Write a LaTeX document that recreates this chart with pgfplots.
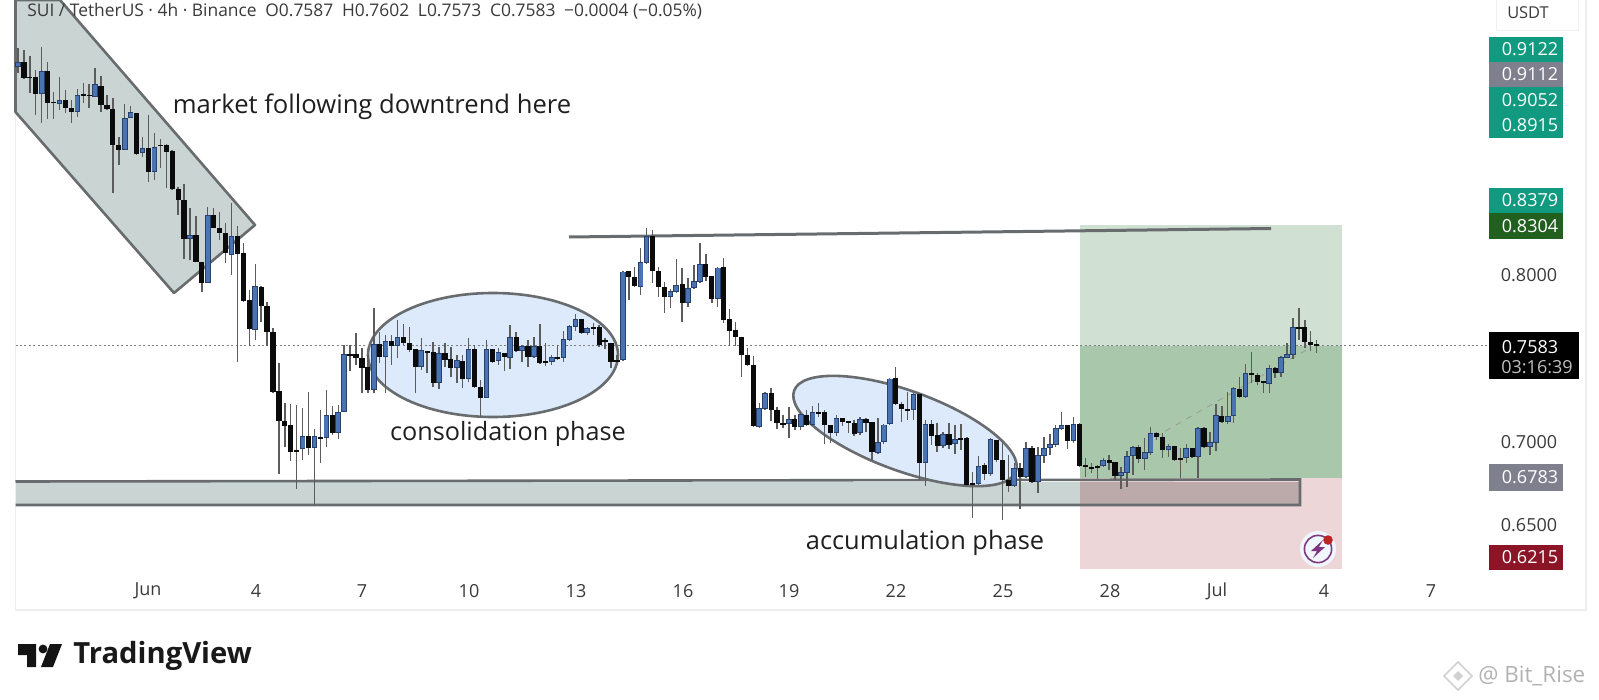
\documentclass[border=0pt]{standalone}
\usepackage{fontspec}
\usepackage{pgfplots}
\usepackage{pgfplotstable}
\pgfplotsset{compat=1.18}
\setmainfont{Open Sans}
\definecolor{wick}{HTML}{5C5C5C}
\definecolor{bodyk}{HTML}{0B0B0B}
\definecolor{bodyb}{HTML}{4A73B2}
\definecolor{edgeb}{HTML}{26406F}
\definecolor{frameg}{HTML}{EEEEEE}
\definecolor{channel}{HTML}{CAD4D2}
\definecolor{lineg}{HTML}{686C6E}
\definecolor{ell}{HTML}{DDEAFC}
\definecolor{gtop}{HTML}{D0E0D2}
\definecolor{gbot}{HTML}{A9C7AB}
\definecolor{gleft}{HTML}{CDDDD0}
\definecolor{redz}{HTML}{EDD6D7}
\definecolor{brownz}{HTML}{BBAAA9}
\definecolor{teal}{HTML}{119A80}
\definecolor{grayb}{HTML}{7E808E}
\definecolor{dgreen}{HTML}{22601F}
\definecolor{dred}{HTML}{8B1526}
\definecolor{txt}{HTML}{3A3A3A}
\pgfplotstableread{
i o h l c
0 67 48 73 62
1 62 50 79 78
2 77 56 93 78.5
3 77 70 115 94
4 94 47 123 71
5 71 62 119 103
6 102 92 119 103.5
7 104 77 110 100
8 100 90 113 108
9 108 100 123 112
10 112 89 117 95
11 94.5 83 103 96
12 95 84 108 96.5
13 97 68 97 84
14 86 76 112 105
15 105 95 110 109
16 109 98 193 145
17 145 137 165 150
18 150 104 150 118
19 118 106 118 112
20 113 113 155 154
21 153 137 157 148
22 148 115 182 172
23 172 133 180 147
24 145 139 168 146.5
25 145 144 188 152
26 151 150 190 189
27 189 187 215 200
28 200 184 259 239
29 239 208 260 235
30 235 216 262 262
31 262 262 292 283
32 283 207 283 215
33 215 208 228 228
34 228 212 240 233
35 233 223 263 253
36 255 203 275 236
37 236 226 362 254
38 253 243 302 301
39 300 290 346 329
40 330 264 340 286
41 287 286 322 306
42 306 302 346 332
43 332 328 393 392
44 391 363 474 421
45 421 403 447 426
46 425 404 461 452
47 450 405 489 451.5
48 449 408 460 436
49 436 392 455 448
50 448 429 505 436
51 437 410 463 438.5
52 438 390 447 415
53 415 406 435 433
54 433 405 439 412
55 412 345 412 354
56 354 345 371 355.5
57 354 333 365 358
58 358 348 393 368
59 367 355 393 390
60 390 308 393 344
61 344 332 363 357
62 357 335 393 341
63 341 335 365 346
64 346 320 358 337
65 337 324 345 343
66 343 327 352 350
67 349 349 393 367
68 367 338 370 350
69 351 351 373 353
70 352 342 387 383
71 383 347 389 353
72 353 343 367 360
73 359 347 377 368
74 368 355 383 360
75 361 355 388 379
76 379 338 382 349
77 349 345 388 387
78 387 380 417 398
79 398 340 398 349
80 349 349 363 362
81 361 348 365 352
82 353 353 371 357
83 358 325 369 337
84 337 332 352 351
85 351 345 362 346
86 346 340 367 357
87 357 337 358 346
88 346 324 364 363
89 361 343 366 363
90 362 355 365 357
91 357 345 360 358.5
92 358 331 362 339
93 340 325 341 326
94 327 314 331 319
95 319 319 334 333
96 333 327 335 328
97 327 323 335 328.5
98 327 325 347 345
99 340 338 349 341.5
100 343 343 368 362
101 360 355 363 361.5
102 360 271 361 271.5
103 271 271 300 277
104 277 267 287 286
105 287 248 295 262
106 263 228 264 236
107 236 230 283 271
108 271 267 297 287
109 287 282 313 297
110 297 289 308 291
111 292 259 293 285
112 284 268 322 303
113 303 278 307 288
114 288 265 289 281
115 282 243 283 264
116 264 254 281 277
117 276 276 303 299
118 299 267 307 267.5
119 267 258 323 320
120 319 309 346 331
121 330 322 346 337
122 337 337 377 355
123 355 348 366 365
124 365 356 427 426
125 427 403 428 408
126 409 392 410 393
127 393 388 421 410
128 410 407 429 423
129 423 415 428 424.5
130 424 407 438 419
131 419 415 430 427
132 427 411 430 414
133 415 410 426 425
134 425 406 426 412
135 412 403 417 413.5
136 412 410 444 425
137 425 425 443 433
138 433 415 436 418
139 418 418 426 422
140 421 421 433 423
141 423 420 436 434
142 433 417 435 419
143 419 418 432 423
144 422 422 460 452
145 453 418 454 442
146 442 424 444 424.5
147 424 378 425 378.5
148 378 367 405 404
149 404 402 422 409
150 409 392 420 410.5
151 410 393 420 394
152 394 394 480 463
153 463 420 486 424
154 424 420 445 436
155 435 423 452 446
156 446 432 448 434
157 434 423 449 445
158 444 425 454 439
159 438 424 450 439.5
160 438 437 486 485
161 483 472 518 484.5
162 484 456 485 466
163 465 463 480 474
164 474 438 476 439
165 440 440 462 460
166 460 443 520 480
167 480 455 492 486
168 486 463 487 468
169 468 463 509 477
170 477 442 478 448
171 448 446 483 482
172 482 447 493 455
173 456 437 463 448
174 448 434 455 444
175 445 425 447 428
176 429 412 430 425
177 425 425 449 441
178 441 417 443 424
179 424 423 467 466
180 465 458 477 467
181 467 463 473 468.5
182 466 465 479 467.5
183 466 458 467 460
184 460 455 470 463
185 462 462 480 476
186 476 467 489 472
187 473 451 487 456
188 456 446 475 447
189 447 445 463 459
190 459 438 470 452
191 453 427 455 433
192 433 432 440 437
193 437 433 458 450
194 450 444 457 446
195 446 446 461 460
196 458 448 478 459.5
197 458 444 463 448
198 448 448 458 457
199 457 427 478 428
200 428 427 448 447
201 447 432 455 442
202 443 404 451 415
203 416 406 423 422
204 422 392 424 416
205 416 387 423 388
206 389 377 398 397
207 397 364 398 373
208 373 352 383 375
209 375 373 385 382
210 381 381 393 383
211 384 365 393 368
212 368 367 378 373
213 373 356 377 357
214 358 343 358 354
215 355 318 359 327
216 327 308 340 328.5
217 327 320 348 342
218 342 331 351 345
219 344 340 353 345.5
}\candles
\newcommand{\cx}{18+5.93*\thisrow{i}}
\begin{document}
\begin{tikzpicture}[x=1pt,y=1pt]
\path[use as bounding box] (0,0) rectangle (799.5pt,350pt);
\begin{axis}[
  at={(0,0)},anchor=south west,
  scale only axis,width=799.5pt,height=350pt,
  xmin=0,xmax=1599,ymin=0,ymax=700,y dir=reverse,
  clip=false,
  axis line style={draw=none},
  major tick length=0pt,
  xtick={148,256,362,469,576,683,789,896,1003,1110,1217,1324,1431},
  xticklabels={Jun,4,7,10,13,16,19,22,25,28,Jul,4,7},
  ytick={275,442,525},
  yticklabels={0.8000,0.7000,0.6500},
  ytick pos=right,
  yticklabel pos=right,
  ticklabel style={text=txt,inner sep=0pt,anchor=center},
  xticklabel style={yshift=54.5pt,font=\fontsize{9}{10}\selectfont},
  yticklabel style={xshift=-35pt,font=\fontsize{9}{11}\selectfont},
  /pgf/number format/assume math mode=true,
]
% panel frame
\draw[frameg,line width=0.6pt] (axis cs:15.5,0) -- (axis cs:15.5,610) -- (axis cs:1586,610) -- (axis cs:1586,0);
% risk / reward box
\fill[gtop] (axis cs:1080,225) rectangle (axis cs:1342,346);
\fill[gbot] (axis cs:1080,346) rectangle (axis cs:1342,478);
\fill[redz] (axis cs:1080,478) rectangle (axis cs:1342,569);
% channel
\filldraw[fill=channel,draw=lineg,line width=1.3pt,line join=round] (axis cs:60,0) -- (axis cs:255,225) -- (axis cs:174,293) -- (axis cs:15.5,112) -- (axis cs:15.5,0) -- cycle;
% support zone
\fill[channel] (axis cs:15.5,482) rectangle (axis cs:1080,505);
\fill[brownz] (axis cs:1080,482) rectangle (axis cs:1300,505);
\draw[lineg,line width=1.3pt] (axis cs:15.5,481.5) -- (axis cs:1300,479.5) -- (axis cs:1300,505) -- (axis cs:15.5,505);
% ellipses
\filldraw[fill=ell,draw=lineg,line width=1.3pt] (axis cs:493,355) ellipse [x radius=125,y radius=62];
\filldraw[fill=ell,draw=lineg,line width=1.3pt,rotate around={-20:(axis cs:905,431)}] (axis cs:905,431) ellipse [x radius=59pt,y radius=20pt];
% resistance, last price, path
\draw[lineg,line width=1.5pt] (axis cs:569,237) -- (axis cs:1271,228.5);
\draw[gray,line width=0.35pt,dash pattern=on 1pt off 1.2pt] (axis cs:15.5,345.5) -- (axis cs:1489,345.5);
\draw[gray!80,line width=0.4pt,dash pattern=on 3pt off 3pt] (axis cs:1155,437) -- (axis cs:1310,348);
% candles
\addplot[draw=none,forget plot,error bars/.cd,y dir=plus,y explicit,error mark=none,error bar style={draw=wick,line width=0.7pt,solid}]
  table[x expr=\cx,y=h,y error plus expr=\thisrow{l}-\thisrow{h}] {\candles};
\addplot[draw=none,forget plot,error bars/.cd,y dir=plus,y explicit,error mark=none,error bar style={draw=bodyk,line width=2.6pt,solid}]
  table[x expr={\thisrow{c}>\thisrow{o} ? \cx : nan},y=o,y error plus expr=\thisrow{c}-\thisrow{o}] {\candles};
\addplot[draw=none,forget plot,error bars/.cd,y dir=plus,y explicit,error mark=none,error bar style={draw=edgeb,line width=2.8pt,solid}]
  table[x expr={\thisrow{c}<\thisrow{o} ? \cx : nan},y=c,y error plus expr=\thisrow{o}-\thisrow{c}] {\candles};
\addplot[draw=none,forget plot,error bars/.cd,y dir=plus,y explicit,error mark=none,error bar style={draw=bodyb,line width=1.9pt,solid}]
  table[x expr={\thisrow{c}<\thisrow{o} ? \cx : nan},y expr=\thisrow{c}+0.7,y error plus expr=\thisrow{o}-\thisrow{c}-1.4] {\candles};
% annotations
\node[anchor=center,text=black!88,font=\fontsize{12.8}{15}\selectfont] at (axis cs:372,107) {market following downtrend here};
\node[anchor=center,text=black!88,font=\fontsize{12.6}{15}\selectfont] at (axis cs:508,434) {consolidation phase};
\node[anchor=center,text=black!88,font=\fontsize{12.7}{15}\selectfont] at (axis cs:925,543) {accumulation phase};
% header
\node[anchor=west,inner sep=0pt,text=txt,font=\fontsize{8.7}{10}\selectfont] at (axis cs:27,11) {SUI / TetherUS · 4h · Binance\enspace O0.7587\enspace H0.7602\enspace L0.7573\enspace C0.7583\enspace −0.0004 (−0.05\%)};
% price scale badges
\newcommand{\badge}[4]{\fill[#1] (axis cs:1489,#2) rectangle (axis cs:1563,#3);
  \node[anchor=center,inner sep=0pt,text=white,font=\fontsize{9}{11}\selectfont] at (axis cs:1530,{(#2+#3)/2}) {#4};}
\badge{teal}{37}{62}{0.9122}
\badge{grayb}{62}{87}{0.9112}
\badge{teal}{87}{113}{0.9052}
\badge{teal}{113}{138}{0.8915}
\badge{teal}{188}{213}{0.8379}
\badge{dgreen}{213}{239}{0.8304}
\badge{grayb}{464}{491}{0.6783}
\badge{dred}{545}{570}{0.6215}
\fill[black] (axis cs:1489,332) rectangle (axis cs:1579,379);
\node[anchor=center,inner sep=0pt,text=white,font=\fontsize{9}{11}\selectfont] at (axis cs:1530,347) {0.7583};
\node[anchor=center,inner sep=0pt,text=black!25,font=\fontsize{9}{11}\selectfont] at (axis cs:1537,367) {03:16:39};
\draw[black!6,line width=0.5pt] (axis cs:1496,0) -- (axis cs:1496,31) -- (axis cs:1578,31) -- (axis cs:1578,0);
\node[anchor=center,inner sep=0pt,text=txt,font=\fontsize{8.2}{10}\selectfont] at (axis cs:1528,13) {USDT};
% flash icon
\fill[white!55!ell] (axis cs:1318,549) circle [radius=9pt];
\draw[violet!55!gray,line width=0.8pt] (axis cs:1318,549) circle [radius=6.8pt];
\fill[violet!60!gray] (axis cs:1323,540) -- (axis cs:1311,551) -- (axis cs:1317,551) -- (axis cs:1313,558) -- (axis cs:1325,547) -- (axis cs:1319,547) -- cycle;
\fill[red!70!black!85] (axis cs:1328,540) circle [radius=2.4pt];
% TradingView logo
\fill[black!92] (axis cs:18,644) -- (axis cs:36,644) -- (axis cs:36,667) -- (axis cs:27,667) -- (axis cs:27,655) -- (axis cs:18,655) -- cycle;
\fill[black!92] (axis cs:43,649) circle [radius=2.2pt];
\fill[black!92] (axis cs:50,644) -- (axis cs:62,644) -- (axis cs:53,667) -- (axis cs:41,667) -- cycle;
\node[anchor=west,inner sep=0pt,text=black!90,font=\fontsize{14.6}{16}\selectfont\bfseries] at (axis cs:73,656) {TradingView};
% watermark
\draw[black!18,line width=0.8pt] (axis cs:1458,662) -- (axis cs:1472,676) -- (axis cs:1458,690) -- (axis cs:1444,676) -- cycle;
\fill[black!18] (axis cs:1458,671) -- (axis cs:1463,676) -- (axis cs:1458,681) -- (axis cs:1453,676) -- cycle;
\node[anchor=west,inner sep=0pt,text=black!30,font=\fontsize{11.2}{13}\selectfont] at (axis cs:1478,676) {@ Bit\_Rise};
\end{axis}
\end{tikzpicture}
\end{document}
